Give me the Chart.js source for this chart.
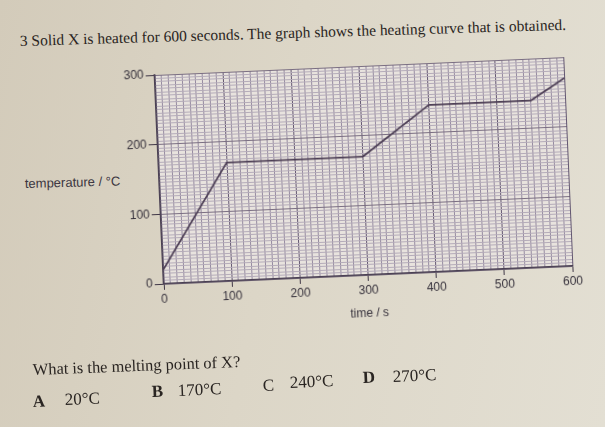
<!DOCTYPE html>
<html><head><meta charset="utf-8">
<script src="https://cdn.jsdelivr.net/npm/chart.js@4.4.1/dist/chart.umd.min.js"></script>
<style>
html,body{margin:0;padding:0;width:605px;height:427px;overflow:hidden;}
body{position:relative;background:linear-gradient(100deg,#d3cbba 0%,#dcd6c7 45%,#e3dfd3 100%);font-family:"Liberation Serif","Times New Roman",serif;color:#2a2522;}
.t{position:absolute;white-space:nowrap;line-height:16px;font-size:15.5px;transform-origin:0 13px;}
.q{font-size:16.4px;}
.o{font-size:17px;}
.b{font-weight:bold;}
.s{font-family:"Liberation Sans",Arial,sans-serif;font-size:13px;color:#3b3640;}
#wrap{position:absolute;left:0;top:0;width:605px;height:340px;transform-origin:363.5px 170.5px;transform:rotate(-2.5deg);}
</style></head><body>
<div class="t" style="left:20px;top:33px;transform:rotate(-1.7deg)">3 Solid X is heated for 600 seconds. The graph shows the heating curve that is obtained.</div>
<div class="t s" style="left:25px;top:176px;transform:rotate(-1.5deg)">temperature / °C</div>
<div id="wrap"><canvas id="c" width="605" height="340"></canvas></div>
<div class="t q" style="left:33px;top:362px;transform:rotate(-2.2deg)">What is the melting point of X?</div>
<div class="t o b" style="left:33px;top:394px;transform:rotate(-2.5deg)">A</div>
<div class="t o" style="left:65px;top:392px;transform:rotate(-2.5deg)">20°C</div>
<div class="t o b" style="left:152px;top:384px;transform:rotate(-2.5deg)">B</div>
<div class="t o" style="left:178px;top:383px;transform:rotate(-2.5deg)">170°C</div>
<div class="t o" style="left:263px;top:378px;transform:rotate(-2.5deg)">C</div>
<div class="t o" style="left:290px;top:375px;transform:rotate(-2.5deg)">240°C</div>
<div class="t o b" style="left:363px;top:370px;transform:rotate(-2.5deg)">D</div>
<div class="t o" style="left:393px;top:369px;transform:rotate(-2.5deg)">270°C</div>
<script>
// data
const timeS = [0, 100, 300, 400, 550, 600];
const tempC = [20, 170, 170, 240, 240, 270];
const xTickLabels = [0, 100, 200, 300, 400, 500, 600];
const yTickLabels = [0, 100, 200, 300];

const paperBg = {
  id: 'paperBg',
  beforeDraw(chart) {
    const a = chart.chartArea, c = chart.ctx;
    c.save(); c.fillStyle = '#e8e3de'; c.fillRect(a.left, a.top, a.right - a.left, a.bottom - a.top); c.restore();
  }
};

const tickFont = {family: '"Liberation Sans", Arial, sans-serif', size: 12};
const labelCol = '#37323c';

new Chart(document.getElementById('c'), {
  type: 'line',
  data: {
    datasets: [{
      data: timeS.map((t, i) => ({x: t, y: tempC[i]})),
      borderColor: '#4d3f55', borderWidth: 1.8, pointRadius: 0, tension: 0, fill: false
    }]
  },
  options: {
    responsive: false, animation: false, devicePixelRatio: 1,
    layout: {padding: {left: 0, top: 66, right: 37, bottom: 0}},
    plugins: {legend: {display: false}, tooltip: {enabled: false}},
    scales: {
      x: {
        type: 'linear', min: 0, max: 600,
        afterFit(s) { s.height = 65; },
        ticks: {stepSize: 10, autoSkip: false, maxRotation: 0, padding: 2, color: labelCol, font: tickFont,
          callback: v => xTickLabels.includes(v) ? String(v) : ''},
        grid: {
          color: c => (c.tick && c.tick.value % 100 === 0) ? '#625670' : '#958aa0',
          tickColor: c => (c.tick && xTickLabels.includes(c.tick.value)) ? '#3f3646' : 'rgba(0,0,0,0)',
          tickLength: 6, lineWidth: 1
        },
        border: {display: true, color: '#4a4052', width: 1.5},
        title: {display: true, text: 'time / s', color: labelCol, font: tickFont, padding: {top: 0, bottom: 19}}
      },
      y: {
        type: 'linear', min: 0, max: 300,
        afterFit(s) { s.width = 159; },
        ticks: {stepSize: 5, autoSkip: false, padding: 2, color: labelCol, font: tickFont,
          callback: v => yTickLabels.includes(v) ? String(v) : ''},
        grid: {
          color: c => (c.tick && c.tick.value % 100 === 0) ? '#7a6e82' : '#b4abb9',
          tickColor: c => (c.tick && yTickLabels.includes(c.tick.value)) ? '#3f3646' : 'rgba(0,0,0,0)',
          tickLength: 9, lineWidth: 1
        },
        border: {display: true, color: '#4a4052', width: 1.5}
      }
    }
  },
  plugins: [paperBg]
});
</script>
</body></html>
